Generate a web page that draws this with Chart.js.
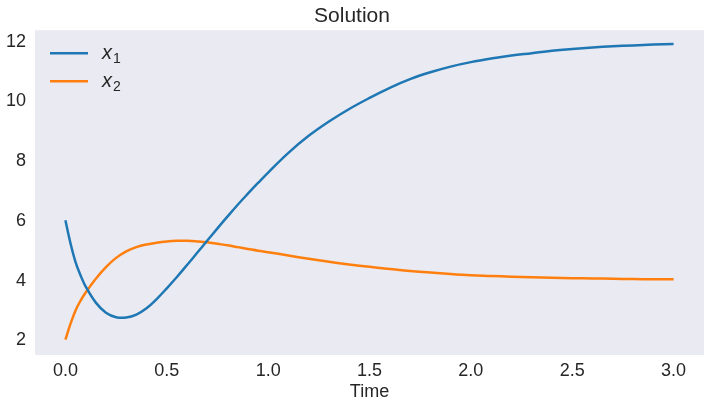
<!DOCTYPE html>
<html>
<head>
<meta charset="utf-8">
<script src="https://cdn.jsdelivr.net/npm/chart.js@4/dist/chart.umd.min.js"></script>
<style>
    html, body { margin: 0; padding: 0; background: #ffffff; }
    #wrap { width: 711px; height: 409px; }
</style>
</head>
<body>
<div id="wrap"><canvas id="solutionChart" width="711" height="409"></canvas></div>
<script>
// values
const TIME = [0, 0.025, 0.05, 0.075, 0.1, 0.15, 0.2, 0.25, 0.3, 0.35, 0.4, 0.45, 0.5, 0.55, 0.6, 0.65, 0.7,
              0.75, 0.8, 0.85, 0.9, 0.95, 1.0, 1.1, 1.2, 1.3, 1.4, 1.5, 1.6, 1.7, 1.8, 1.9,
              2.0, 2.1, 2.2, 2.3, 2.4, 2.5, 2.6, 2.7, 2.8, 2.9, 3.0];
const X1 = [6.02, 5.25, 4.62, 4.17, 3.80, 3.26, 2.92, 2.77, 2.76, 2.86, 3.07, 3.38, 3.74, 4.12, 4.52, 4.93, 5.34,
            5.75, 6.15, 6.54, 6.91, 7.27, 7.62, 8.28, 8.85, 9.33, 9.75, 10.12, 10.46, 10.75, 10.98, 11.17,
            11.32, 11.44, 11.54, 11.62, 11.70, 11.76, 11.81, 11.85, 11.88, 11.91, 11.93];
const X2 = [2.02, 2.55, 3.00, 3.33, 3.60, 4.06, 4.45, 4.76, 4.98, 5.12, 5.21, 5.27, 5.31, 5.33, 5.33, 5.31, 5.28,
            5.23, 5.18, 5.12, 5.06, 5.00, 4.95, 4.84, 4.73, 4.63, 4.54, 4.46, 4.39, 4.32, 4.27, 4.22,
            4.18, 4.155, 4.13, 4.11, 4.09, 4.08, 4.07, 4.06, 4.05, 4.045, 4.04];
const SERIES_NAMES = ['x_1', 'x_2'];
const SERIES_COLORS = ['#1f77b4', '#ff7f0e'];
const X_TICKS = [0, 0.5, 1.0, 1.5, 2.0, 2.5, 3.0];
const Y_TICKS = [2, 4, 6, 8, 10, 12];

const TEXT = '#262626';
const FONT = '"Liberation Sans", Arial, sans-serif';

function toPoints(ys) {
    return TIME.map((t, i) => ({ x: t, y: ys[i] }));
}

// grey plot background like seaborn
const plotBg = {
    id: 'plotBg',
    beforeDraw(chart) {
        const { ctx, chartArea: a } = chart;
        ctx.save();
        ctx.fillStyle = '#eaeaf2';
        ctx.fillRect(a.left, a.top, a.right - a.left, a.bottom - a.top);
        ctx.restore();
    }
};

// legend inside the axes, with subscripts
const innerLegend = {
    id: 'innerLegend',
    afterDatasetsDraw(chart) {
        const { ctx, chartArea: a } = chart;
        ctx.save();
        chart.data.datasets.forEach((ds, i) => {
            const y = a.top + 23 + i * 28;
            const x0 = a.left + 15;
            ctx.strokeStyle = ds.borderColor;
            ctx.lineWidth = 2.5;
            ctx.beginPath();
            ctx.moveTo(x0, y);
            ctx.lineTo(x0 + 38, y);
            ctx.stroke();
            const [base, sub] = ds.label.split('_');
            ctx.fillStyle = TEXT;
            ctx.textBaseline = 'alphabetic';
            ctx.font = 'italic 20px ' + FONT;
            ctx.fillText(base, x0 + 52, y + 6);
            const w = ctx.measureText(base).width;
            ctx.font = '14px ' + FONT;
            ctx.fillText(sub, x0 + 53 + w, y + 10);
        });
        ctx.restore();
    }
};

new Chart(document.getElementById('solutionChart').getContext('2d'), {
    type: 'line',
    data: {
        datasets: SERIES_NAMES.map((name, i) => ({
            label: name,
            data: toPoints(i === 0 ? X1 : X2),
            borderColor: SERIES_COLORS[i],
            backgroundColor: SERIES_COLORS[i],
            borderWidth: 2.5,
            pointRadius: 0,
            tension: 0.4,
            fill: false
        }))
    },
    options: {
        responsive: false,
        animation: false,
        layout: { padding: { top: 0, right: 7, bottom: 0, left: 0 } },
        scales: {
            x: {
                type: 'linear',
                min: -0.15,
                max: 3.15,
                grid: { display: false, drawTicks: false },
                border: { display: false },
                afterBuildTicks(s) { s.ticks = X_TICKS.map(v => ({ value: v })); },
                afterFit(s) { s.height = 54; },
                ticks: {
                    padding: 5,
                    color: TEXT,
                    font: { family: FONT, size: 18 },
                    maxRotation: 0,
                    callback: v => Number(v).toFixed(1)
                },
                title: {
                    display: true,
                    text: 'Time',
                    color: TEXT,
                    font: { family: FONT, size: 18 },
                    padding: { top: 0, bottom: 6 }
                }
            },
            y: {
                min: 1.505,
                max: 12.39,
                grid: { display: false, drawTicks: false },
                border: { display: false },
                afterBuildTicks(s) { s.ticks = Y_TICKS.map(v => ({ value: v })); },
                afterFit(s) { s.width = 35; },
                ticks: {
                    padding: 9,
                    color: TEXT,
                    font: { family: FONT, size: 18 },
                    callback: v => String(v)
                }
            }
        },
        plugins: {
            legend: { display: false },
            tooltip: { enabled: false },
            title: {
                display: true,
                text: 'Solution',
                color: TEXT,
                font: { family: FONT, size: 21, weight: 'normal' },
                padding: { top: 4, bottom: 1 }
            }
        }
    },
    plugins: [plotBg, innerLegend]
});
</script>
</body>
</html>
